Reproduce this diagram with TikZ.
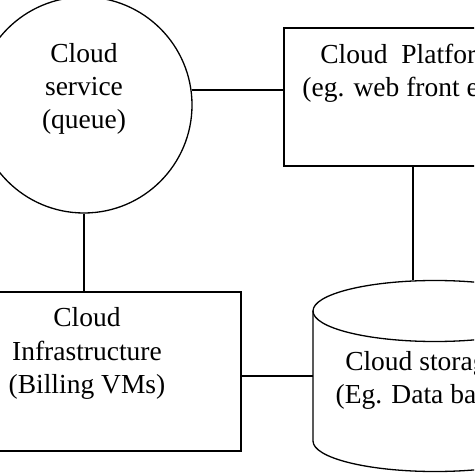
\documentclass[tikz,border=0pt]{standalone}
\usepackage{fontspec}
\setmainfont{Liberation Serif}
\usepackage{tikz}
\tikzstyle{block}=[rectangle,draw=black,line width=0.65pt,inner sep=0pt]
\tikzstyle{roundvertex}=[circle,draw=black,line width=0.65pt,inner sep=0pt,minimum size=108pt]
\tikzstyle{drumbody}=[rectangle,inner sep=0pt,minimum width=122pt,minimum height=96pt]
\tikzstyle{boxtext}=[align=center,inner sep=0pt,font=\fontsize{13.75}{16.5}\selectfont]
\tikzstyle{link}=[draw,line width=0.65pt]

\begin{document}
\begin{tikzpicture}[x=0.5pt,y=-0.5pt]
    \useasboundingbox (0,0) rectangle (474,474);
    \clip (0,0) rectangle (474,474);

    % the four parts
    \node[roundvertex] (svc) at (84,105) {};
    \node[block,minimum width=129pt,minimum height=69pt] (plat) at (413,97) {};
    \node[block,minimum width=154pt,minimum height=79.5pt] (infra) at (87,371.5) {};
    \node[drumbody] (stor) at (435,376) {};
    % the drum: side and bottom, then the top lid
    \path[link] (313,311) -- (313,441) arc[start angle=180,end angle=0,x radius=122,y radius=30.5] -- (557,311);
    \path[link] (435,311) ellipse [x radius=122,y radius=30.5];

    % their texts
    \node[boxtext,anchor=base] (svctext) at (84,129) {Cloud\\service\\(queue)};
    \node[boxtext,anchor=base] (plattext) at (409,97) {Cloud~~Platform\\(eg. web front end)};
    \node[boxtext,anchor=base] (infratext) at (87,393) {Cloud\\Infrastructure\\(Billing VMs)};
    \node[boxtext,anchor=base] (stortext) at (422,403) {Cloud storage\\(Eg. Data base)};

    % links between them
    \path[link] (svc.8) -- (svc.8 -| plat.west);
    \path[link] (svc.south) -- (svc.south |- infra.north);
    \path[link] (plat.south) -- (plat.south |- stor.north);
    \path[link] (stor.west) -- (stor.west -| infra.east);
\end{tikzpicture}
\end{document}
